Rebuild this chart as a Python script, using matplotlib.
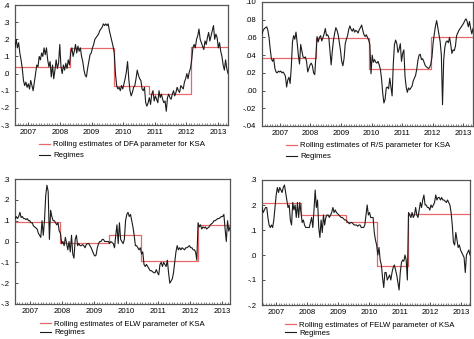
import matplotlib
matplotlib.use("Agg")
import matplotlib.pyplot as plt
import matplotlib.dates as mdates
from matplotlib.ticker import FuncFormatter, MultipleLocator
import pandas as pd

plt.rcParams['font.family'] = ['Liberation Sans', 'DejaVu Sans']

# ---- DFA ----
dfa_start = "2006-07-31"
dfa_values = [
    0.15, 0.20, 0.15, 0.18, 0.12, 0.08, 0.03, -0.04, -0.07, -0.05,
    -0.08, -0.06, -0.09, -0.04, -0.07, -0.10, -0.05, 0.00, 0.05, 0.04,
    0.10, 0.08, 0.12, 0.10, 0.15, 0.11, 0.15, 0.08, 0.04, 0.07,
    -0.02, 0.05, -0.03, 0.02, 0.08, 0.03, 0.06, 0.17, 0.04, 0.00,
    0.05, 0.02, 0.06, 0.03, 0.08, 0.05, 0.12, 0.15, 0.10, 0.13,
    0.17, 0.12, 0.16, 0.13, 0.15, 0.10, 0.07, 0.02, -0.01, -0.02,
    0.03, 0.07, 0.11, 0.12, 0.15, 0.17, 0.20, 0.21, 0.22, 0.23,
    0.25, 0.26, 0.27, 0.29, 0.28, 0.29, 0.28, 0.29, 0.25, 0.22,
    0.19, 0.16, 0.12, 0.00, -0.07, -0.09, -0.08, -0.10, -0.07, -0.09,
    -0.06, -0.03, 0.01, 0.07, -0.03, -0.10, -0.13, -0.11, -0.08, -0.07,
    -0.03, 0.02, -0.01, -0.03, -0.04, -0.09, -0.10, -0.08, -0.17, -0.19,
    -0.17, -0.14, -0.18, -0.12, -0.10, -0.16, -0.13, -0.15, -0.17, -0.10,
    -0.14, -0.12, -0.15, -0.17, -0.16, -0.22, -0.14, -0.12, -0.14, -0.15,
    -0.12, -0.10, -0.13, -0.11, -0.08, -0.10, -0.11, -0.07, -0.08, -0.09,
    -0.05, -0.03, 0.00, -0.03, 0.01, 0.03, 0.08, 0.15, 0.17, 0.15,
    0.20, 0.22, 0.26, 0.20, 0.18, 0.16, 0.14, 0.19, 0.17, 0.21,
    0.24, 0.19, 0.22, 0.25, 0.28, 0.20, 0.23, 0.21, 0.15, 0.18,
    0.13, 0.10, 0.05, 0.02, 0.08, 0.03, 0.00,
]
dfa_breaks = ["2008-05-01", "2009-09-21", "2010-10-26", "2012-03-01"]
dfa_levels = [0.036, 0.147, -0.070, -0.118, 0.156]

# ---- R/S ----
rs_start = "2006-06-01"
rs_values = [
    0.064, 0.068, 0.070, 0.071, 0.072, 0.068, 0.060, 0.047, 0.036, 0.033,
    0.036, 0.025, 0.021, 0.020, 0.022, 0.021, 0.022, 0.020, 0.021, 0.019,
    0.016, 0.004, 0.012, 0.015, 0.008, 0.027, 0.055, 0.062, 0.058, 0.066,
    0.054, 0.040, 0.030, 0.052, 0.045, 0.038, 0.037, 0.038, 0.033, 0.021,
    0.025, 0.029, 0.031, 0.028, 0.020, 0.018, 0.040, 0.061, 0.055, 0.060,
    0.062, 0.056, 0.060, 0.064, 0.070, 0.062, 0.063, 0.060, 0.044, 0.029,
    0.045, 0.057, 0.065, 0.071, 0.068, 0.063, 0.054, 0.045, 0.033, 0.028,
    0.036, 0.053, 0.058, 0.062, 0.069, 0.073, 0.069, 0.067, 0.070, 0.066,
    0.068, 0.067, 0.065, 0.069, 0.071, 0.074, 0.068, 0.063, 0.061, 0.063,
    0.060, 0.057, 0.052, 0.019, 0.040, 0.032, 0.035, 0.032, 0.031, 0.033,
    0.029, 0.024, 0.013, -0.003, -0.014, -0.010, 0.003, 0.004, 0.002, 0.014,
    0.004, -0.006, 0.030, 0.052, 0.057, 0.053, 0.043, 0.047, 0.053, 0.033,
    0.042, 0.046, 0.016, 0.004, -0.002, 0.003, 0.001, 0.003, 0.005, 0.011,
    0.014, 0.017, 0.024, 0.034, 0.040, 0.041, 0.035, 0.036, 0.033, 0.029,
    0.027, 0.026, 0.025, 0.026, 0.030, 0.038, 0.054, 0.064, 0.073, 0.079,
    0.071, 0.063, 0.055, 0.040, -0.016, 0.035, 0.049, 0.055, 0.056, 0.054,
    0.060, 0.052, 0.042, 0.046, 0.045, 0.050, 0.062, 0.065, 0.068, 0.070,
    0.072, 0.074, 0.076, 0.079, 0.081, 0.078, 0.072, 0.078, 0.070, 0.064,
    0.070,
]
rs_breaks = ["2008-03-04", "2009-12-02", "2011-12-05"]
rs_levels = [0.037, 0.059, 0.024, 0.061]

# ---- ELW ----
elw_start = "2006-07-13"
elw_values = [
    0.11, 0.12, 0.11, 0.12, 0.14, 0.115, 0.12, 0.11, 0.11, 0.105,
    0.11, 0.10, 0.10, 0.09, 0.09, 0.075, 0.07, 0.065, 0.06, 0.04,
    0.03, 0.02, 0.10, 0.03, 0.10, 0.22, 0.27, 0.24, 0.01, 0.15,
    0.12, 0.10, 0.10, 0.09, 0.08, 0.09, 0.05,
    0.04, -0.01, 0.00, -0.02, 0.02, -0.01, -0.04, 0.00, -0.05, 0.03,
    -0.06, -0.08, 0.01, 0.03, -0.02, -0.01, -0.02, -0.02, -0.015, -0.02,
    -0.03, -0.015, -0.01, -0.01, -0.02, -0.03, -0.045, -0.06, -0.07, -0.065,
    -0.03, -0.01, 0.00, 0.00, 0.01, 0.01, 0.00, 0.00, 0.00, 0.00,
    -0.01, 0.00, -0.005, -0.01, -0.03, 0.03, 0.08, -0.01, 0.09, 0.01,
    0.00, -0.01, 0.01, 0.10, 0.13, 0.14, 0.12, 0.13, 0.10, 0.07,
    0.03, -0.02, -0.02, -0.03, -0.04, -0.03, -0.06, -0.05, -0.11, -0.12,
    -0.11, -0.12, -0.13, -0.14, -0.14, -0.145, -0.15, -0.15, -0.135, -0.15,
    -0.16, -0.11, -0.10, -0.12, -0.10, -0.11, -0.12, -0.09, -0.15, -0.20,
    -0.19, -0.18, -0.15, -0.10, -0.05, -0.02, -0.04, -0.03, -0.04, -0.03,
    -0.035, -0.04, -0.03, -0.03, -0.025, -0.02, -0.03, -0.03, -0.04, -0.04,
    -0.05, -0.09, 0.09, 0.07, 0.08, 0.06, 0.07, 0.065, 0.07, 0.06,
    0.065, 0.07, 0.08, 0.085, 0.09, 0.10, 0.10, 0.105, 0.11, 0.11,
    0.115, 0.12, 0.12, 0.13, 0.06, 0.00, 0.10, 0.05, 0.07,
]
elw_breaks = ["2007-12-05", "2009-06-13", "2010-06-17", "2012-03-23"]
elw_levels = [0.095, -0.008, 0.030, -0.092, 0.081]

# ---- FELW ----
felw_start = "2006-07-16"
felw_values = [
    0.19, 0.17, 0.18, 0.19, 0.19, 0.15, 0.12, 0.11, 0.12, 0.11,
    0.14, 0.19, 0.24, 0.27, 0.25, 0.27, 0.26, 0.25, 0.27, 0.28,
    0.25, 0.22, 0.19, 0.20, 0.14, 0.12, 0.21, 0.18, 0.20, 0.15,
    0.21, 0.15, 0.21, 0.17, 0.13, 0.14, 0.12, 0.11, 0.11, 0.11,
    0.11, 0.13, 0.15, 0.11, 0.18, 0.26, 0.19, 0.22, 0.11, 0.07,
    0.14, 0.09, 0.16, 0.12, 0.15, 0.16, 0.16, 0.15, 0.16, 0.17,
    0.19, 0.17, 0.18, 0.17, 0.165, 0.16, 0.155, 0.15, 0.15, 0.145,
    0.14, 0.14, 0.135, 0.13, 0.125, 0.13, 0.13, 0.125, 0.12, 0.12,
    0.12, 0.115, 0.12, 0.12, 0.11, 0.11, 0.11, 0.12, 0.16, 0.20,
    0.16, 0.17, 0.15, 0.15, 0.15, 0.09, 0.06, 0.04, 0.00, 0.03,
    -0.02, -0.04, -0.09, -0.13, -0.07, -0.07, -0.10, -0.09, -0.08, -0.10,
    -0.07, -0.05, -0.04, -0.06, -0.08, -0.11, -0.14, -0.07, -0.03, -0.02,
    -0.025, 0.00, -0.02, -0.10, 0.17, 0.16, 0.15, 0.17, 0.15, 0.16,
    0.19, 0.16, 0.15, 0.18, 0.21, 0.19, 0.22, 0.24, 0.20, 0.20,
    0.19, 0.19, 0.18, 0.20, 0.19, 0.20, 0.21, 0.24, 0.22, 0.23,
    0.23, 0.22, 0.23, 0.22, 0.22, 0.215, 0.21, 0.22, 0.21, 0.20,
    0.17, 0.12, 0.05, 0.04, 0.09, 0.06, 0.03, 0.04, 0.02, 0.01,
    0.00, -0.01, -0.07, 0.00, 0.01, 0.02, 0.00,
]
felw_breaks = ["2007-10-20", "2009-04-06", "2010-04-12", "2011-04-14"]
felw_levels = [0.209, 0.162, 0.132, -0.043, 0.166]

W, H = 474, 339
RED = "#e8686a"
BLACK = "#1c1c1c"

panels = [
    # start, values, breaks, levels, ylim, ystep, decimals, label, box(l,t,r,b), legend(x, y)
    (dfa_start, dfa_values, dfa_breaks, dfa_levels, (-0.3, 0.4), 0.1, 1,
     "Rolling estimates of DFA parameter for KSA", (15, 5, 228, 125), (39, 141), 0.45),
    (rs_start, rs_values, rs_breaks, rs_levels, (-0.04, 0.10), 0.02, 2,
     "Rolling estimates of R/S parameter for KSA", (262, 2, 473, 126), (286, 142), 0.45),
    (elw_start, elw_values, elw_breaks, elw_levels, (-0.3, 0.3), 0.1, 1,
     "Rolling estimates of ELW parameter of KSA", (15, 179, 230, 304), (40, 320.5), 0.12),
    (felw_start, felw_values, felw_breaks, felw_levels, (-0.2, 0.3), 0.1, 1,
     "Rolling estimates of FELW parameter of KSA", (262, 180, 470, 305), (285, 321.5), 0.1),
]


def make_fmt(dec):
    def f(v, pos):
        s = f"{round(v, dec) + 0.0:.{dec}f}"
        return s.replace("0.", ".", 1)
    return f


fig = plt.figure(figsize=(W / 100, H / 100), dpi=100)

for start, vals, breaks, levels, ylim, ystep, dec, label, box, leg, lsp in panels:
    l, t, r, b = box
    ax = fig.add_axes([l / W, 1 - b / H, (r - l) / W, (b - t) / H])
    dates = pd.date_range(start, periods=len(vals), freq="14D")
    edges = [dates[0]] + list(pd.to_datetime(breaks)) + [dates[-1]]
    ax.step(edges, levels + [levels[-1]], where="post", color=RED, lw=0.9,
            label=label, zorder=2)
    ax.plot(dates, vals, color=BLACK, lw=0.8, label="Regimes", zorder=3)

    ax.set_xlim(dates[0], dates[-1])
    ax.set_ylim(*ylim)
    ax.yaxis.set_major_locator(MultipleLocator(ystep))
    ax.yaxis.set_major_formatter(FuncFormatter(make_fmt(dec)))
    ax.xaxis.set_major_locator(mdates.YearLocator())
    ax.xaxis.set_major_formatter(mdates.DateFormatter("%Y"))
    ax.xaxis.set_minor_locator(mdates.MonthLocator())
    ax.tick_params(axis="both", which="major", direction="in", length=2.5,
                   width=0.6, labelsize=5.6, colors="#333333", labelcolor="black")
    ax.tick_params(axis="x", which="major", pad=3)
    ax.tick_params(axis="y", which="major", pad=4)
    ax.tick_params(axis="x", which="minor", direction="in", length=1.5,
                   width=0.5, colors="#555555")
    for sp in ax.spines.values():
        sp.set_color("#555555")
        sp.set_linewidth(0.9)

    lx, ly = leg
    ax.legend(loc="upper left", bbox_to_anchor=(lx / W, 1 - ly / H),
              bbox_transform=fig.transFigure, frameon=False, fontsize=5.6,
              borderpad=0, borderaxespad=0, handlelength=1.35,
              handletextpad=0.45, labelspacing=lsp)

fig.savefig("out.png", dpi=100)
